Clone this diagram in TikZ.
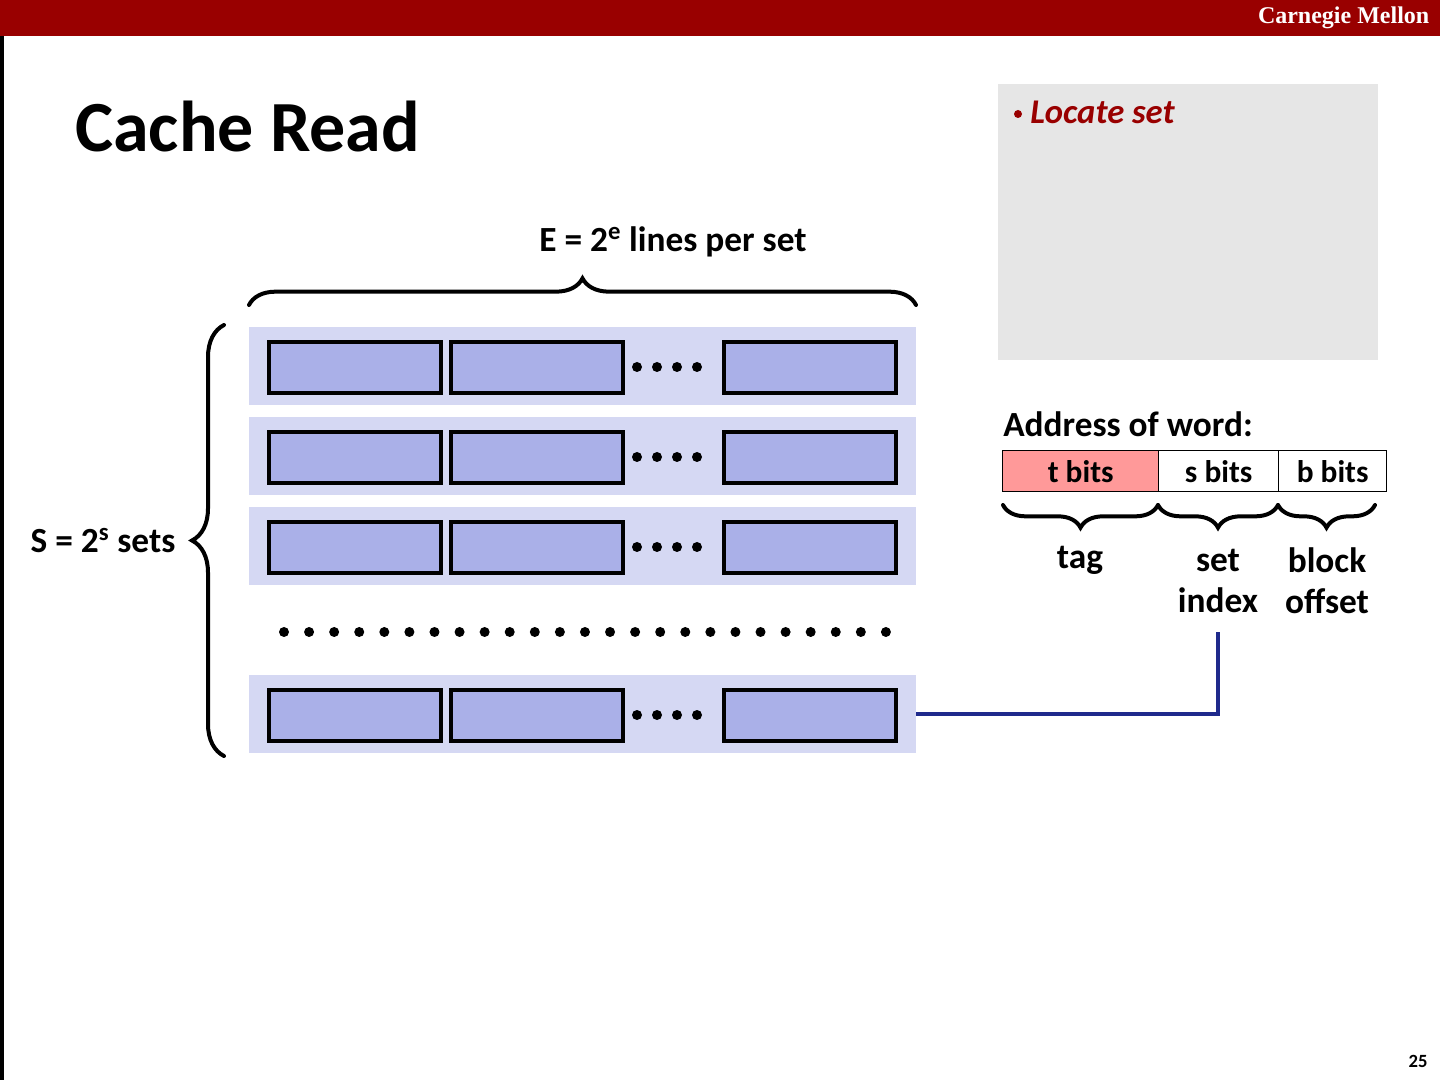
\documentclass[tikz,border=0pt]{standalone}
\usepackage{fontspec}
\setmainfont{Carlito}
\newfontfamily\cmufont{Liberation Serif}
\usetikzlibrary{decorations.pathreplacing}
\definecolor{cmured}{HTML}{990000}
\definecolor{rowbg}{HTML}{D5D8F3}
\definecolor{linefill}{HTML}{AAB0E8}
\definecolor{tagfill}{HTML}{FF9999}
\definecolor{boxgray}{HTML}{E6E6E6}
\definecolor{wire}{HTML}{1F2A8C}
\begin{document}
\begin{tikzpicture}[x=0.75pt,y=-0.75pt,
  row/.style={fill=rowbg,draw=none},
  cline/.style={fill=linefill,draw=black,line width=2.4pt},
  dot/.style={fill=black,draw=none},
  brc/.style={decorate,decoration={brace,amplitude=#1,aspect=0.5},line width=3pt,line cap=round},
  brc/.default=20pt,
  lbl/.style={font=\fontsize{26.5}{31}\selectfont\bfseries},
  abox/.style={draw=black,line width=1pt,minimum height=30.75pt,inner sep=0pt,font=\fontsize{23.5}{27}\selectfont\bfseries}]
\useasboundingbox (0,0) rectangle (1440,1080);
\fill[white] (0,0) rectangle (1440,1080);
\fill[cmured] (0,0) rectangle (1440,36);
\fill[black] (0,36) rectangle (4,1080);
\node[text=white,anchor=east,font=\cmufont\fontsize{18}{20}\selectfont\bfseries] (cmu) at (1434,18) {Carnegie Mellon};
\node[anchor=base west,inner sep=0pt,font=\fontsize{54}{58}\selectfont\bfseries] (title) at (75,152) {Cache Read};
\fill[boxgray] (998,84) rectangle (1378,360);
\fill[cmured] (1018,114) circle (4);
\node[anchor=base west,inner sep=0pt,text=cmured,font=\fontsize{26}{30}\selectfont\bfseries\itshape] (loc) at (1030,124) {Locate set};
% rows
\foreach \y [count=\i] in {327,417,507,675} {
  \fill[row] (249,\y) rectangle (916,\y+78);
  \draw[cline] (269,\y+15) rectangle (441,\y+66);
  \draw[cline] (451,\y+15) rectangle (623,\y+66);
  \draw[cline] (724,\y+15) rectangle (896,\y+66);
  \foreach \x in {636,656,676,696} \fill[dot] (\x+1,\y+40) circle (5);
}
\foreach \k in {0,...,24} \fill[dot] (284+\k*25.08,632) circle (5);
% braces
\draw[brc] (249,305) -- (916,305);
\node[lbl] (E) at (673,242) {E = 2\textsuperscript{e} lines per set};
\draw[brc=24pt] (224,756) -- (224,325);
\node[lbl] (S) at (103,541) {S = 2\textsuperscript{s} sets};
% address
\node[lbl,anchor=base west,inner sep=0pt] (addr) at (1003,437) {Address of word:};
\node[abox,fill=tagfill,minimum width=117pt,anchor=north west] (t) at (1002,450) {t bits};
\node[abox,minimum width=90pt,anchor=north west] (s) at (1158,450) {s bits};
\node[abox,minimum width=81pt,anchor=north west] (b) at (1278,450) {b bits};
\draw[brc=17pt] (1158,505) -- (1003,505);
\draw[brc=17pt] (1278,505) -- (1158,505);
\draw[brc=17pt] (1375,505) -- (1278,505);
\node[lbl] (tag) at (1080,560) {tag};
\node[lbl,align=center] (si) at (1218,581) {set\\index};
\node[lbl,align=center] (bo) at (1327,581) {block\\offset};
\coordinate (r4) at (916,714);
\coordinate (up) at (1218,632);
\draw[wire,line width=2.4pt] (r4) -| (up);
\node[font=\fontsize{14}{16}\selectfont\bfseries] (pg) at (1418,1061) {25};
\end{tikzpicture}
\end{document}
